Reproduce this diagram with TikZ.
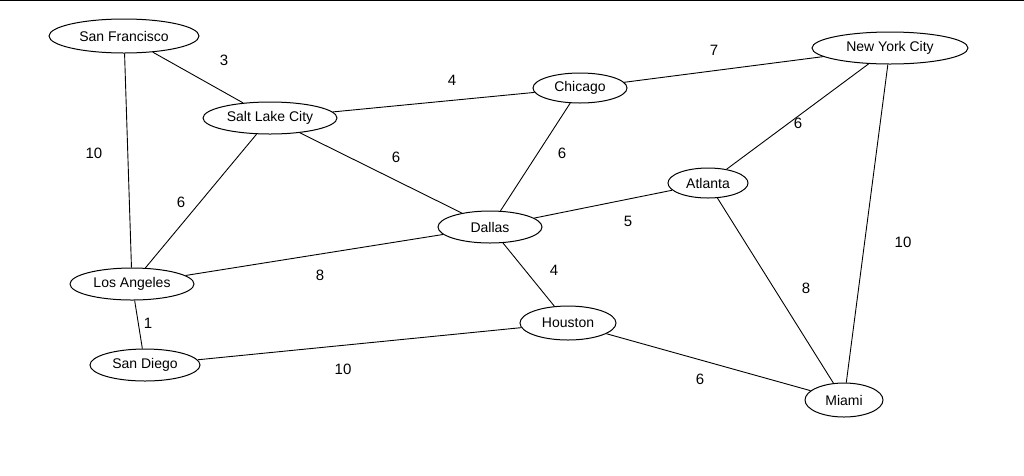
\documentclass[tikz,border=0pt]{standalone}
\usepackage{fontspec}
\setmainfont{Liberation Sans}
\usetikzlibrary{shapes.geometric}
\begin{document}
\begin{tikzpicture}[x=1pt,y=-1pt,
  city/.style={draw,ellipse,inner sep=0pt,font=\fontsize{14}{16}\selectfont,line width=1pt},
  w/.style={font=\fontsize{15}{17}\selectfont},
  every path/.style={line width=0.9pt}]
\useasboundingbox (0,0) rectangle (1024,475);
\fill[white] (0,0) rectangle (1024,475);
\draw[line width=1.5pt] (0,0.7) -- (1024,0.7);
\node[city,minimum width=150,minimum height=34] (sf) at (124,36) {San Francisco};
\node[city,minimum width=134,minimum height=32] (slc) at (270,118) {Salt Lake City};
\node[city,minimum width=94,minimum height=30] (chi) at (580,88) {Chicago};
\node[city,minimum width=156,minimum height=32] (nyc) at (890,48) {New York City};
\node[city,minimum width=80,minimum height=30] (atl) at (708,183) {Atlanta};
\node[city,minimum width=104,minimum height=32] (dal) at (490,227) {Dallas};
\node[city,minimum width=124,minimum height=32] (la) at (132,284) {Los Angeles};
\node[city,minimum width=96,minimum height=34] (hou) at (568,323) {Houston};
\node[city,minimum width=110,minimum height=32] (sd) at (145,365) {San Diego};
\node[city,minimum width=78,minimum height=34] (mia) at (844,400) {Miami};
\draw (sf) -- (slc); \draw (sf) -- (la); \draw (slc) -- (chi); \draw (slc) -- (la);
\draw (slc) -- (dal); \draw (chi) -- (nyc); \draw (chi) -- (dal); \draw (nyc) -- (atl);
\draw (nyc) -- (mia); \draw (atl) -- (dal); \draw (atl) -- (mia); \draw (dal) -- (la);
\draw (dal) -- (hou); \draw (la) -- (sd); \draw (sd) -- (hou); \draw (hou) -- (mia);
\node[w] (l1) at (224,60) {3};
\node[w] (l2) at (94,153) {10};
\node[w] (l3) at (452,80) {4};
\node[w] (l4) at (181,202) {6};
\node[w] (l5) at (396,157) {6};
\node[w] (l6) at (714,50) {7};
\node[w] (l7) at (562,153) {6};
\node[w] (l8) at (798,123) {6};
\node[w] (l9) at (903,242) {10};
\node[w] (l10) at (628,221) {5};
\node[w] (l11) at (806,288) {8};
\node[w] (l12) at (320,275) {8};
\node[w] (l13) at (554,270) {4};
\node[w] (l14) at (148,323) {1};
\node[w] (l15) at (343,369) {10};
\node[w] (l16) at (700,379) {6};
\end{tikzpicture}
\end{document}
